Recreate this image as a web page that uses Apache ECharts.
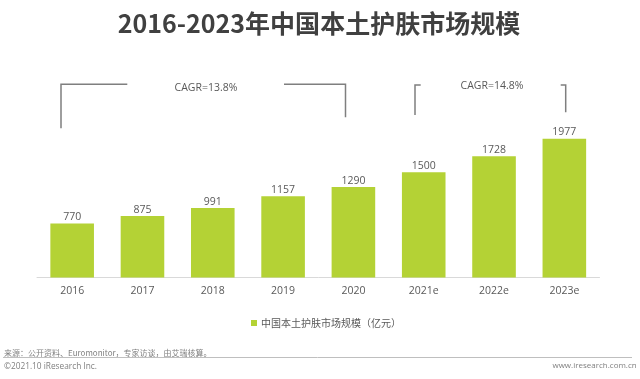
<!DOCTYPE html>
<html>
<head>
<meta charset="utf-8">
<script src="https://cdn.jsdelivr.net/npm/echarts@6/dist/echarts.min.js"></script>
<style>html,body{margin:0;padding:0;background:#fff;}#c{width:640px;height:379px;}</style>
</head>
<body>
<div id="c"></div>
<script>
const categories = ['2016','2017','2018','2019','2020','2021e','2022e','2023e'];
const marketSize = [770, 875, 991, 1157, 1290, 1500, 1728, 1977];
const seriesName = '中国本土护肤市场规模（亿元）';
const titleText = '2016-2023年中国本土护肤市场规模';
const cagrLabels = ['CAGR=13.8%', 'CAGR=14.8%'];
const sourceText = '来源：公开资料、Euromonitor，专家访谈，由艾瑞核算。';
const copyrightText = '©2021.10 iResearch Inc.';
const siteText = 'www.iresearch.com.cn';

const chart = echarts.init(document.getElementById('c'));
const bracketStyle = {stroke: '#7f7f7f', lineWidth: 1.5, fill: null};
const smallFont = '"Open Sans", "Noto Sans CJK SC", sans-serif';
chart.setOption({
  animation: false,
  backgroundColor: '#ffffff',
  grid: {left: 37, right: 40.5, top: 102, bottom: 101.5},
  legend: {
    data: [seriesName],
    left: 246, top: 313,
    icon: 'rect', itemWidth: 6, itemHeight: 6, itemGap: 10,
    textStyle: {fontSize: 10, color: '#595959', fontFamily: '"Noto Sans CJK SC", sans-serif', padding: [0,0,0,-1]}
  },
  xAxis: {
    type: 'category', data: categories,
    axisLine: {lineStyle: {color: '#d9d9d9', width: 1}},
    axisTick: {show: false},
    axisLabel: {fontSize: 10.5, color: '#595959', fontFamily: smallFont, margin: 8}
  },
  yAxis: {type: 'value', min: 0, max: 2500, show: false, splitLine: {show: false}},
  series: [{
    name: seriesName, type: 'bar', data: marketSize, barWidth: '62%',
    itemStyle: {color: '#b4d235'},
    label: {show: true, position: 'top', distance: 1, fontSize: 10.5, color: '#595959', fontFamily: smallFont}
  }],
  graphic: [
    {type: 'text', x: 319, y: 23, style: {text: titleText, textAlign: 'center', textVerticalAlign: 'middle', fontSize: 25, fontWeight: 'bold', fill: '#404040', fontFamily: '"Noto Sans CJK SC", sans-serif'}},
    {type: 'polyline', shape: {points: [[61,128.3],[61,84.3],[127.3,84.3]]}, style: bracketStyle},
    {type: 'polyline', shape: {points: [[284,84.3],[345.5,84.3],[345.5,117.3]]}, style: bracketStyle},
    {type: 'text', x: 206, y: 87.7, style: {text: cagrLabels[0], textAlign: 'center', textVerticalAlign: 'middle', fontSize: 10.5, fill: '#595959', fontFamily: smallFont}},
    {type: 'polyline', shape: {points: [[415,115],[415,85],[420.7,85]]}, style: bracketStyle},
    {type: 'polyline', shape: {points: [[560.7,85],[565.7,85],[565.7,112.3]]}, style: bracketStyle},
    {type: 'text', x: 492, y: 85.7, style: {text: cagrLabels[1], textAlign: 'center', textVerticalAlign: 'middle', fontSize: 10.5, fill: '#595959', fontFamily: smallFont}},
    {type: 'text', x: 4, y: 353.3, style: {text: sourceText, textAlign: 'left', textVerticalAlign: 'middle', fontSize: 8, fill: '#7f7f7f', fontFamily: '"Noto Sans CJK SC", sans-serif'}},
    {type: 'line', shape: {x1: 3, y1: 357.5, x2: 632, y2: 357.5}, style: {stroke: '#bfbfbf', lineWidth: 1}},
    {type: 'text', x: 4, y: 367, style: {text: copyrightText, textAlign: 'left', textVerticalAlign: 'middle', fontSize: 8.3, fill: '#7f7f7f', fontFamily: smallFont}},
    {type: 'text', x: 636.7, y: 365.5, style: {text: siteText, textAlign: 'right', textVerticalAlign: 'middle', fontSize: 8, fill: '#7f7f7f', fontFamily: smallFont}}
  ]
});
</script>
</body>
</html>
